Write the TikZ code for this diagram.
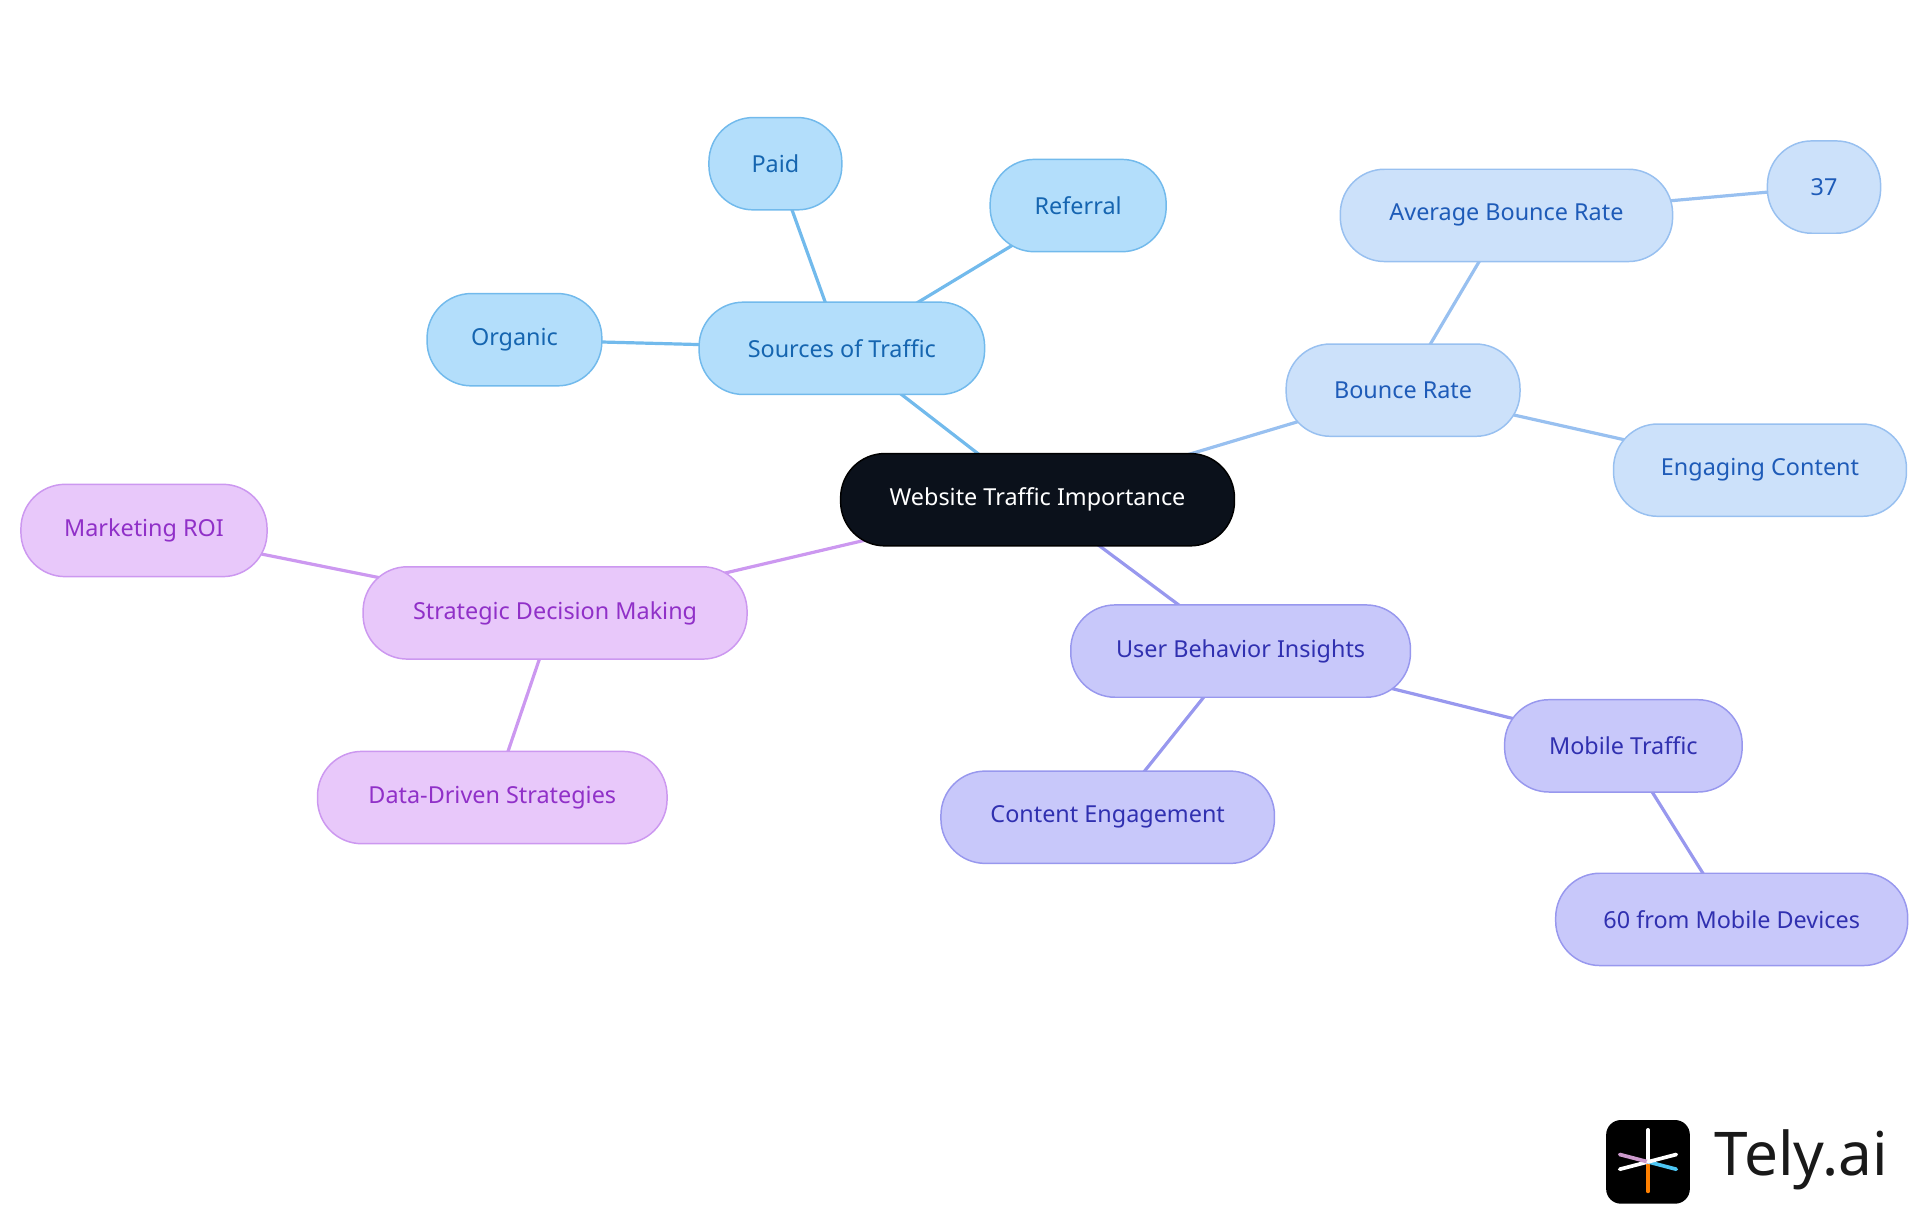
\documentclass[tikz,border=0pt]{standalone}
\usepackage{fontspec}
\setmainfont{Noto Sans}
\usetikzlibrary{backgrounds}
\begin{document}
\begin{tikzpicture}[x=0.5pt,y=-0.5pt,
 box/.style={rounded corners=18pt,minimum height=37.5pt,inner sep=0pt,line width=0.6pt,font=\fontsize{9.5}{11}\selectfont},
 cb/.style={box,fill=cbf,draw=cbd,text=cbt},
 cl/.style={box,fill=clf,draw=cld,text=clt},
 cv/.style={box,fill=cvf,draw=cvd,text=cvt},
 cp/.style={box,fill=cpf,draw=cpd,text=cpt},
 eb/.style={draw=cbd,line width=1.3pt},
 el/.style={draw=cld,line width=1.3pt},
 ev/.style={draw=cvd,line width=1.3pt},
 ep/.style={draw=cpd,line width=1.3pt}]
\definecolor{cbf}{HTML}{B3DEFB}\definecolor{cbd}{HTML}{72BAEC}\definecolor{cbt}{HTML}{1565B0}
\definecolor{clf}{HTML}{CCE1FA}\definecolor{cld}{HTML}{98C0F0}\definecolor{clt}{HTML}{1E5BB8}
\definecolor{cvf}{HTML}{C8C8FA}\definecolor{cvd}{HTML}{9898EE}\definecolor{cvt}{HTML}{3030B0}
\definecolor{cpf}{HTML}{E8C8FA}\definecolor{cpd}{HTML}{CC98F0}\definecolor{cpt}{HTML}{9030C8}
\definecolor{dk}{HTML}{0B111B}
\useasboundingbox (0,0) rectangle (1560,987);
\node[box,fill=dk,draw=black,text=white,minimum width=160pt] (c) at (843,406) {Website Traffic Importance};
\node[cb,minimum width=116pt] (s) at (684,283) {Sources of Traffic};
\node[cb,minimum width=54pt] (pa) at (630,133) {Paid};
\node[cb,minimum width=71.5pt] (re) at (876,167) {Referral};
\node[cb,minimum width=71pt] (or) at (418,276) {Organic};
\node[cl,minimum width=95pt] (b) at (1140,317) {Bounce Rate};
\node[cl,minimum width=135pt] (ab) at (1224,175) {Average Bounce Rate};
\node[cl,minimum width=46pt] (n37) at (1482,152) {37};
\node[cl,minimum width=119pt] (ec) at (1430,382) {Engaging Content};
\node[cv,minimum width=138pt] (u) at (1008,529) {User Behavior Insights};
\node[cv,minimum width=135.5pt] (ce) at (900,664) {Content Engagement};
\node[cv,minimum width=96.5pt] (mt) at (1319,606) {Mobile Traffic};
\node[cv,minimum width=143pt] (m60) at (1407,747) {60 from Mobile Devices};
\node[cp,minimum width=156pt] (sd) at (451,498) {Strategic Decision Making};
\node[cp,minimum width=100pt] (mr) at (117,431) {Marketing ROI};
\node[cp,minimum width=142pt] (dd) at (400,648) {Data-Driven Strategies};
\begin{pgfonlayer}{background}
\draw[eb] (c.center) -- (s.center); \draw[eb] (s.center) -- (pa.center); \draw[eb] (s.center) -- (re.center); \draw[eb] (s.center) -- (or.center);
\draw[el] (c.center) -- (b.center); \draw[el] (b.center) -- (ab.center); \draw[el] (ab.center) -- (n37.center); \draw[el] (b.center) -- (ec.center);
\draw[ev] (c.center) -- (u.center); \draw[ev] (u.center) -- (ce.center); \draw[ev] (u.center) -- (mt.center); \draw[ev] (mt.center) -- (m60.center);
\draw[ep] (c.center) -- (sd.center); \draw[ep] (sd.center) -- (mr.center); \draw[ep] (sd.center) -- (dd.center);
\end{pgfonlayer}
% logo
\node[fill=black,rounded corners=6pt,minimum size=34pt,inner sep=0pt] (logo) at (1339,944) {};
\coordinate (lc) at (1339,944);
\draw[white,line width=1.5pt,line cap=round] (1339,918) -- (lc);
\draw[orange,line width=1.5pt,line cap=round] (lc) -- (1339,968);
\draw[white,line width=1.5pt,line cap=round] (lc) -- (1316,950);
\draw[cyan!70,line width=1.5pt,line cap=round] (lc) -- (1362,950);
\draw[violet!40,line width=1.5pt,line cap=round] (lc) -- (1316,938);
\draw[white,line width=1.5pt,line cap=round] (lc) -- (1362,938);
\node[anchor=west,font=\fontsize{24.5}{26}\selectfont,text=black!90,inner sep=0pt] (tely) at (1393,942) {Tely.ai};
\end{tikzpicture}
\end{document}
